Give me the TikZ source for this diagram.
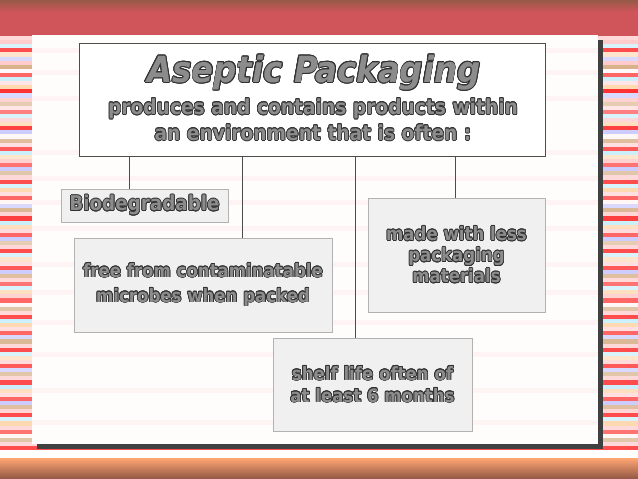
\documentclass[tikz,border=0pt]{standalone}
\usepackage{fontspec}
\setmainfont{DejaVu Sans Condensed}
\usepackage{contour}
\contourlength{0.4pt}
\usetikzlibrary{positioning}

\definecolor{slidered}{RGB}{208,85,90}
\definecolor{slidebrown}{RGB}{150,90,70}
\definecolor{boxgray}{RGB}{240,240,240}
\definecolor{inkgray}{RGB}{140,140,140}
\definecolor{inkdark}{RGB}{50,50,50}

\newcommand{\inked}[1]{\contour{inkdark}{#1}}

\begin{document}
\begin{tikzpicture}[
      x=0.02cm, y=-0.02cm,
      title/.style={draw=black!70, fill=white, line width=0.5pt, minimum width=9.32cm, minimum height=2.26cm, inner sep=0pt},
      item/.style={draw=black!30, fill=boxgray, line width=0.5pt, align=center, inner sep=0pt, text=inkgray, font=\bfseries\fontsize{10.5}{12}\selectfont},
      link/.style={draw=black!70, line width=0.5pt}]
      % background stripes
      \useasboundingbox (0,0) rectangle (638,478);
      \shade[top color=slidebrown, bottom color=slidered] (0,0) rectangle (638,12);
      \fill[slidered] (0,12) rectangle (638,36);
      \foreach \c [count=\i] in {pink!60, white!80!red, cyan!15, red!70, orange!20, blue!15, pink!80, brown!60, white!90!pink, red!60, cyan!20, pink!40, orange!30, red!80, white!85!blue, pink!70, brown!40, white!90!red, red!50, cyan!15, pink!60, orange!25, red!75, blue!20, white!85!pink, brown!50, pink!50, red!65, cyan!20, orange!20, pink!70, red!55, white!80!blue, brown!45, pink!60, red!70, cyan!15, orange!30, pink!50, red!60, white!85!pink, blue!15, brown!55, pink!65, red!75, cyan!20, orange!25, pink!55, red!60, white!80!blue, brown!40, pink!60, red!70, cyan!15, orange!20, pink!50, red!65, blue!20, brown!50, pink!60, red!55, cyan!15, orange!25, pink!70, red!60, white!85!pink, brown!45, pink!60, red!70, cyan!20, orange!30, pink!50, red!60, blue!15, brown!55, pink!60, red!70, cyan!15, orange!20, pink!55, red!65, white!85!blue, brown!45, pink!60, red!70, cyan!20, orange!25, pink!50, red!60, blue!20, brown!50, pink!65, red!70, cyan!15, orange!30, pink!60, red!55, white!85!pink, brown!45, pink!60, red!70}
        \fill[\c] (0,{36+4.1*(\i-1)}) rectangle (638,{40.2+4.1*(\i-1)});
      \shade[top color=orange!40!pink, bottom color=slidebrown] (0,458) rectangle (638,478);
      % panel
      \fill[black!75] (37,40) rectangle (603,449);
      \fill[white!95!pink] (32,35) rectangle (598,444);
      \foreach \y in {48,70,96,150,176,200,226,262,290,320,352,388,420}
        \fill[pink!25, opacity=0.6] (32,\y) rectangle (598,\y+5);
      % title box
      \node[title] (head) at (312,100) {};
      \node[text=inkgray, font=\bfseries\itshape\fontsize{20.5}{24}\selectfont] (name) at (314,73) {\inked{Aseptic Packaging}};
      \node[text=inkgray, font=\bfseries\fontsize{11.8}{14.7}\selectfont, align=center] (lead) at (313,120) {\inked{produces and contains products within}\\\inked{an environment that is often :}};
      % items
      \node[item, minimum width=3.34cm, minimum height=0.66cm, font=\bfseries\fontsize{11.6}{14}\selectfont] (bio) at (144.5,205.5) {\inked{Biodegradable}};
      \node[item, minimum width=5.16cm, minimum height=1.88cm, font=\bfseries\fontsize{10.5}{14.2}\selectfont] (free) at (203,285) {\inked{free from contaminatable}\\\inked{microbes when packed}};
      \node[item, minimum width=3.54cm, minimum height=2.28cm] (less) at (456.5,255) {\inked{made with less}\\\inked{packaging}\\\inked{materials}};
      \node[item, minimum width=3.98cm, minimum height=1.86cm, font=\bfseries\fontsize{10.5}{12.5}\selectfont] (shelf) at (372.5,384.5) {\inked{shelf life often of}\\\inked{at least 6 months}};
      % links
      \draw[link] (bio.north -| 129,0) -- (head.south -| 129,0);
      \draw[link] (free.north -| 242,0) -- (head.south -| 242,0);
      \draw[link] (shelf.north -| 355,0) -- (head.south -| 355,0);
      \draw[link] (less.north -| 455,0) -- (head.south -| 455,0);
\end{tikzpicture}
\end{document}
